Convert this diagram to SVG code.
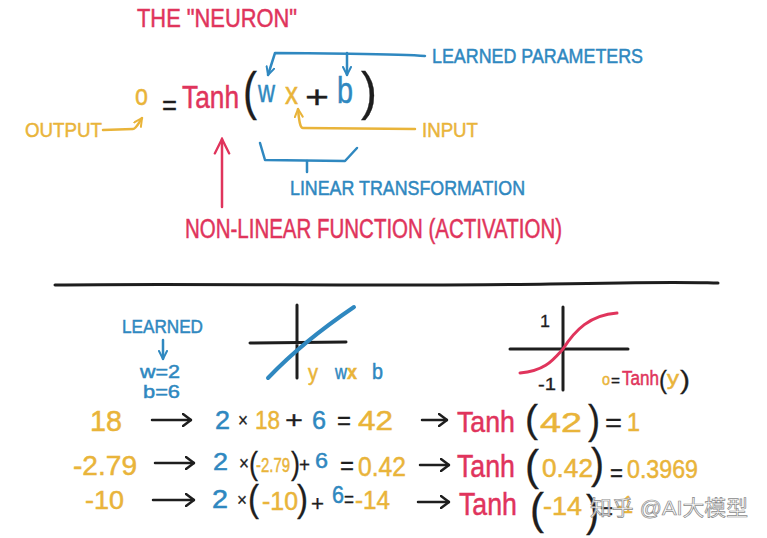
<svg xmlns="http://www.w3.org/2000/svg" width="767" height="538" viewBox="0 0 767 538">
<defs>
<style>
text{font-family:"Liberation Sans","Noto Sans CJK SC",sans-serif;}
.r{fill:#e0345c;stroke:#e0345c;stroke-width:0.5}.b{fill:#2f88c0;stroke:#2f88c0;stroke-width:0.5}.y{fill:#e9b43a;stroke:#e9b43a;stroke-width:0.5}.k{fill:#1e1e1e;stroke:#1e1e1e;stroke-width:0.3}
.ln{fill:none;stroke-linecap:round;stroke-linejoin:round}
.sb{stroke:#2f88c0;stroke-width:2.5}
.sy{stroke:#e9b43a;stroke-width:2.5}
.sr{stroke:#e0345c;stroke-width:2.5}
.sk{stroke:#1e1e1e;stroke-width:2.5}
.wm{fill:#ffffff;fill-opacity:0.85;stroke:#8a8a8a;stroke-width:0.7}
</style>
<marker id="aB" viewBox="0 0 10 10" refX="9" refY="5" markerWidth="10" markerHeight="10" markerUnits="userSpaceOnUse" orient="auto"><path d="M1,1 L9,5 L1,9" fill="none" stroke="#2f88c0" stroke-width="2" stroke-linecap="round"/></marker>
<marker id="aY" viewBox="0 0 10 10" refX="9" refY="5" markerWidth="10" markerHeight="10" markerUnits="userSpaceOnUse" orient="auto"><path d="M1,1 L9,5 L1,9" fill="none" stroke="#e9b43a" stroke-width="2" stroke-linecap="round"/></marker>
<marker id="aR" viewBox="0 0 10 10" refX="9" refY="5" markerWidth="18" markerHeight="18" markerUnits="userSpaceOnUse" orient="auto"><path d="M1,1 L9,5 L1,9" fill="none" stroke="#e0345c" stroke-width="1.3" stroke-linecap="round"/></marker>
<marker id="aK" viewBox="0 0 10 14" refX="9" refY="7" markerWidth="10" markerHeight="14" markerUnits="userSpaceOnUse" orient="auto"><path d="M1,1 L9,7 L1,13" fill="none" stroke="#1e1e1e" stroke-width="2.5" stroke-linecap="round" stroke-linejoin="round"/></marker>
</defs>
<rect width="767" height="538" fill="#ffffff"/>

<g id="title"><text class="r" x="137" y="27" font-size="26" textLength="160" lengthAdjust="spacingAndGlyphs">THE "NEURON"</text></g>

<g id="neuron-equation">
<text class="y" x="135" y="105" font-size="29" textLength="13" lengthAdjust="spacingAndGlyphs">o</text>
<text class="k" x="162" y="115" font-size="28" textLength="15" lengthAdjust="spacingAndGlyphs">=</text>
<text class="r" x="182" y="108" font-size="32" textLength="57" lengthAdjust="spacingAndGlyphs">Tanh</text>
<text class="k" x="243" y="109" font-size="51" textLength="14" lengthAdjust="spacingAndGlyphs">(</text>
<text class="b" x="258" y="102" font-size="32" textLength="17" lengthAdjust="spacingAndGlyphs">w</text>
<text class="y" x="285" y="104" font-size="32" textLength="13" lengthAdjust="spacingAndGlyphs">x</text>
<text class="k" x="305" y="108" font-size="32" textLength="24" lengthAdjust="spacingAndGlyphs">+</text>
<text class="b" x="337" y="103" font-size="36" textLength="16" lengthAdjust="spacingAndGlyphs">b</text>
<text class="k" x="361" y="109" font-size="52" textLength="16" lengthAdjust="spacingAndGlyphs">)</text>
</g>

<g id="label-learned-parameters"><text class="b" x="432" y="63" font-size="21" textLength="211" lengthAdjust="spacingAndGlyphs">LEARNED PARAMETERS</text></g>
<g id="label-input"><text class="y" x="422" y="137" font-size="21" textLength="56" lengthAdjust="spacingAndGlyphs">INPUT</text></g>
<g id="label-output"><text class="y" x="25" y="137" font-size="21" textLength="77" lengthAdjust="spacingAndGlyphs">OUTPUT</text></g>
<g id="label-linear"><text class="b" x="290" y="195" font-size="21" textLength="235" lengthAdjust="spacingAndGlyphs">LINEAR TRANSFORMATION</text></g>
<g id="label-nonlinear"><text class="r" x="185" y="238" font-size="27" textLength="377" lengthAdjust="spacingAndGlyphs">NON-LINEAR FUNCTION (ACTIVATION)</text></g>

<g id="connectors">
<path class="ln sb" d="M425,56 C400,54 300,53 275,53 L268,75" marker-end="url(#aB)"/>
<path class="ln sb" d="M347,53 L347,75" marker-end="url(#aB)"/>
<path class="ln sy" d="M415,129 L303,128 C300,128 299,120 298,109" marker-end="url(#aY)"/>
<path class="ln sy" d="M103,130 L133,129 C136,129 138,124 142,118" marker-end="url(#aY)"/>
<path class="ln sr" d="M222,207 L222,139" marker-end="url(#aR)"/>
<path class="ln sb" d="M260,143 L265,160 L345,161 L357,148"/>
<path class="ln sb" d="M307,161 L307,172"/>
<path class="ln sb" d="M163,340 L163,359" marker-end="url(#aB)"/>
<path class="ln sk" d="M152,420 L191,420" marker-end="url(#aK)"/>
<path class="ln sk" d="M422,420 L447,420" marker-end="url(#aK)"/>
<path class="ln sk" d="M155,463 L194,463" marker-end="url(#aK)"/>
<path class="ln sk" d="M420,465 L449,465" marker-end="url(#aK)"/>
<path class="ln sk" d="M153,500 L194,500" marker-end="url(#aK)"/>
<path class="ln sk" d="M418,502 L449,502" marker-end="url(#aK)"/>
</g>

<g id="divider"><path class="ln" stroke="#1e1e1e" stroke-width="3" d="M55,285 C200,283 400,287 550,284 S700,283 718,283"/></g>

<g id="learned">
<text class="b" x="122" y="333" font-size="19" textLength="81" lengthAdjust="spacingAndGlyphs">LEARNED</text>
<text class="b" x="140" y="378" font-size="18" textLength="40" lengthAdjust="spacingAndGlyphs">w=2</text>
<text class="b" x="143" y="398" font-size="19" textLength="37" lengthAdjust="spacingAndGlyphs">b=6</text>
</g>

<g id="linear-plot">
<path class="ln" stroke="#1e1e1e" stroke-width="3" d="M297,305 L297,378 M250,343 L346,342"/>
<path class="ln" stroke="#2f88c0" stroke-width="4" d="M268,378 C290,355 320,330 354,307"/>
<text class="y" x="308" y="380" font-size="22" textLength="10" lengthAdjust="spacingAndGlyphs">y</text>
<text class="b" x="335" y="379" font-size="20" textLength="12" lengthAdjust="spacingAndGlyphs">w</text>
<text class="y" x="347" y="379" font-size="20" font-weight="bold" textLength="10" lengthAdjust="spacingAndGlyphs">x</text>
<text class="b" x="372" y="379" font-size="22" textLength="11" lengthAdjust="spacingAndGlyphs">b</text>
</g>

<g id="tanh-plot">
<path class="ln" stroke="#1e1e1e" stroke-width="3" d="M563,307 L563,390 M510,349 L628,349"/>
<path class="ln" stroke="#e0345c" stroke-width="3" d="M520,373 C545,371 553,360 563,349 C575,330 590,315 617,313"/>
<text class="k" x="540" y="327" font-size="17" textLength="10" lengthAdjust="spacingAndGlyphs">1</text>
<text class="k" x="538" y="390" font-size="17" textLength="18" lengthAdjust="spacingAndGlyphs">-1</text>
<text class="y" x="602" y="385" font-size="16" textLength="8" lengthAdjust="spacingAndGlyphs">o</text>
<text class="k" x="611" y="386" font-size="16" textLength="9" lengthAdjust="spacingAndGlyphs">=</text>
<text class="r" x="622" y="385" font-size="20" textLength="37" lengthAdjust="spacingAndGlyphs">Tanh</text>
<text class="k" x="659" y="389" font-size="26" textLength="8" lengthAdjust="spacingAndGlyphs">(</text>
<text class="y" x="667" y="385" font-size="20" textLength="12" lengthAdjust="spacingAndGlyphs">y</text>
<text class="k" x="680" y="389" font-size="26" textLength="10" lengthAdjust="spacingAndGlyphs">)</text>
</g>

<g id="row1">
<text class="y" x="90" y="431" font-size="29" textLength="32" lengthAdjust="spacingAndGlyphs">18</text>
<text class="b" x="215" y="429" font-size="26" textLength="15" lengthAdjust="spacingAndGlyphs">2</text>
<text class="k" x="238" y="427" font-size="20" textLength="10" lengthAdjust="spacingAndGlyphs">×</text>
<text class="y" x="255" y="429" font-size="26" textLength="25" lengthAdjust="spacingAndGlyphs">18</text>
<text class="k" x="285" y="428" font-size="24" textLength="18" lengthAdjust="spacingAndGlyphs">+</text>
<text class="b" x="312" y="429" font-size="26" textLength="14" lengthAdjust="spacingAndGlyphs">6</text>
<text class="k" x="337" y="429" font-size="26" textLength="14" lengthAdjust="spacingAndGlyphs">=</text>
<text class="y" x="358" y="430" font-size="28" textLength="35" lengthAdjust="spacingAndGlyphs">42</text>
<text class="r" x="457" y="432" font-size="30" textLength="58" lengthAdjust="spacingAndGlyphs">Tanh</text>
<text class="k" x="525" y="432" font-size="38" textLength="13" lengthAdjust="spacingAndGlyphs">(</text>
<text class="y" x="540" y="432" font-size="27" textLength="42" lengthAdjust="spacingAndGlyphs">42</text>
<text class="k" x="588" y="434" font-size="40" textLength="12" lengthAdjust="spacingAndGlyphs">)</text>
<text class="k" x="605" y="431" font-size="26" textLength="17" lengthAdjust="spacingAndGlyphs">=</text>
<text class="y" x="627" y="431" font-size="26" textLength="13" lengthAdjust="spacingAndGlyphs">1</text>
</g>

<g id="row2">
<text class="y" x="73" y="475" font-size="28" textLength="64" lengthAdjust="spacingAndGlyphs">-2.79</text>
<text class="b" x="213" y="470" font-size="24" textLength="15" lengthAdjust="spacingAndGlyphs">2</text>
<text class="k" x="239" y="470" font-size="20" textLength="10" lengthAdjust="spacingAndGlyphs">×</text>
<text class="k" x="249" y="474" font-size="32" textLength="9" lengthAdjust="spacingAndGlyphs">(</text>
<text class="y" x="256" y="472" font-size="21" textLength="34" lengthAdjust="spacingAndGlyphs">-2.79</text>
<text class="k" x="291" y="474" font-size="32" textLength="9" lengthAdjust="spacingAndGlyphs">)</text>
<text class="k" x="299" y="472" font-size="20" textLength="11" lengthAdjust="spacingAndGlyphs">+</text>
<text class="b" x="315" y="468" font-size="22" textLength="13" lengthAdjust="spacingAndGlyphs">6</text>
<text class="k" x="340" y="474" font-size="26" textLength="14" lengthAdjust="spacingAndGlyphs">=</text>
<text class="y" x="358" y="476" font-size="28" textLength="48" lengthAdjust="spacingAndGlyphs">0.42</text>
<text class="r" x="457" y="477" font-size="31" textLength="58" lengthAdjust="spacingAndGlyphs">Tanh</text>
<text class="k" x="525" y="480" font-size="42" textLength="14" lengthAdjust="spacingAndGlyphs">(</text>
<text class="y" x="542" y="477" font-size="26" textLength="51" lengthAdjust="spacingAndGlyphs">0.42</text>
<text class="k" x="591" y="478" font-size="42" textLength="13" lengthAdjust="spacingAndGlyphs">)</text>
<text class="k" x="610" y="481" font-size="24" textLength="13" lengthAdjust="spacingAndGlyphs">=</text>
<text class="y" x="627" y="478" font-size="26" textLength="71" lengthAdjust="spacingAndGlyphs">0.3969</text>
</g>

<g id="row3">
<text class="y" x="85" y="509" font-size="26" textLength="39" lengthAdjust="spacingAndGlyphs">-10</text>
<text class="b" x="212" y="508" font-size="25" textLength="16" lengthAdjust="spacingAndGlyphs">2</text>
<text class="k" x="237" y="506" font-size="18" textLength="10" lengthAdjust="spacingAndGlyphs">×</text>
<text class="k" x="248" y="511" font-size="36" textLength="11" lengthAdjust="spacingAndGlyphs">(</text>
<text class="y" x="262" y="510" font-size="25" textLength="36" lengthAdjust="spacingAndGlyphs">-10</text>
<text class="k" x="297" y="511" font-size="36" textLength="11" lengthAdjust="spacingAndGlyphs">)</text>
<text class="k" x="311" y="511" font-size="22" textLength="13" lengthAdjust="spacingAndGlyphs">+</text>
<text class="b" x="332" y="503" font-size="24" textLength="12" lengthAdjust="spacingAndGlyphs">6</text>
<text class="k" x="344" y="507" font-size="22" textLength="10" lengthAdjust="spacingAndGlyphs">=</text>
<text class="y" x="355" y="509" font-size="25" textLength="35" lengthAdjust="spacingAndGlyphs">-14</text>
<text class="r" x="459" y="515" font-size="31" textLength="58" lengthAdjust="spacingAndGlyphs">Tanh</text>
<text class="k" x="530" y="524" font-size="44" textLength="14" lengthAdjust="spacingAndGlyphs">(</text>
<text class="y" x="543" y="515" font-size="25" textLength="39" lengthAdjust="spacingAndGlyphs">-14</text>
<text class="k" x="586" y="526" font-size="44" textLength="13" lengthAdjust="spacingAndGlyphs">)</text>
<text class="k" x="600" y="519" font-size="24" textLength="13" lengthAdjust="spacingAndGlyphs">=</text>
<text class="y" x="617" y="513" font-size="24" textLength="16" lengthAdjust="spacingAndGlyphs">-1</text>
</g>

<g id="watermark"><text class="wm" x="590" y="515" font-size="21" textLength="158" lengthAdjust="spacingAndGlyphs">知乎 @AI大模型</text></g>
</svg>
